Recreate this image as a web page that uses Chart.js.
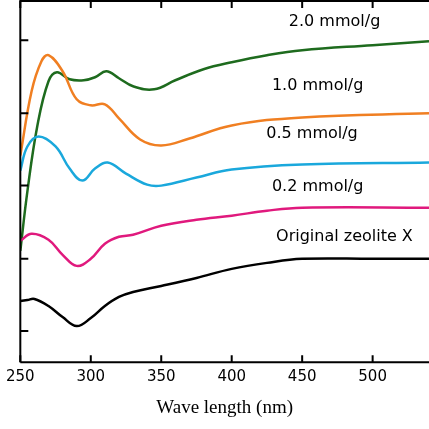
<!DOCTYPE html>
<html><head><meta charset="utf-8">
<script src="https://cdn.jsdelivr.net/npm/chart.js@4"></script>
<style>html,body{margin:0;padding:0;background:#fff}#c{width:429px;height:429px}</style>
</head><body><div id="c"><canvas id="cv"></canvas></div>
<script>
const xTicks=[250,300,350,400,450,500];
const yTickVals=[31,103,176,248,321];
const original=[[250,61],[255,62],[260,63],[270,56],[280,45],[290,36],[300,44],[310,56],[320,65],[330,70],[350,76],[375,84],[400,93],[425,99],[450,103],[500,103],[540,103]];
const s02=[[250,121],[258,128],[270,122],[280,107],[290,96],[300,103],[310,118],[320,125],[330,127],[350,136],[375,142],[400,146],[425,151],[450,154],[540,154]];
const s05=[[250,191],[255,215],[263,225],[275,215],[285,193],[294,181],[303,193],[312,199],[325,188],[340,177],[350,176],[375,184],[400,192],[450,197],[540,199]];
const s10=[[250,206],[258,270],[265,300],[270,306],[280,290],[290,262],[300,256],[310,257],[320,243],[335,222],[350,216],[370,223],[400,236],[450,244],[540,248]];
const s20=[[250,111],[255,170],[262,235],[270,280],[276,289],[285,282],[295,281],[303,284],[311,290],[320,283],[330,275],[345,272],[360,281],[380,292],[400,299],[425,306],[450,311],[500,316],[540,320]];
const labels=[["2.0 mmol/g",473,339],["1.0 mmol/g",461,275],["0.5 mmol/g",457,228],["0.2 mmol/g",461,175],["Original zeolite X",480,125]];
const mk=(d,c)=>({data:d.map(p=>({x:p[0],y:p[1]})),borderColor:c,borderWidth:2.5,pointRadius:0,tension:0.4,fill:false});
const deco={id:'deco',afterDraw(ch){const c=ch.ctx,a=ch.chartArea,X=ch.scales.x,Y=ch.scales.y;c.save();c.strokeStyle='#000';c.lineWidth=2;
c.beginPath();c.moveTo(a.left,a.bottom);c.lineTo(a.left,a.top);c.lineTo(a.right,a.top);c.moveTo(a.left,a.bottom);c.lineTo(a.right,a.bottom);c.stroke();
c.beginPath();xTicks.forEach(v=>{const px=X.getPixelForValue(v);c.moveTo(px,a.bottom);c.lineTo(px,a.bottom-7);c.moveTo(px,a.top);c.lineTo(px,a.top+7);});
yTickVals.forEach(v=>{const py=Y.getPixelForValue(v);c.moveTo(a.left,py);c.lineTo(a.left+8,py);});c.stroke();
c.fillStyle='#000';c.font='16px "DejaVu Sans", sans-serif';c.textAlign='center';c.textBaseline='middle';
labels.forEach(l=>c.fillText(l[0],X.getPixelForValue(l[1]),Y.getPixelForValue(l[2])));c.restore();}};
new Chart(document.getElementById('cv'),{type:'line',data:{datasets:[mk(original,'#000000'),mk(s02,'#e0197d'),mk(s05,'#1aa8dc'),mk(s10,'#f07f22'),mk(s20,'#1e6b1e')]},
options:{responsive:true,maintainAspectRatio:false,animation:false,layout:{padding:{left:10,top:1,right:0,bottom:6}},
plugins:{legend:{display:false},tooltip:{enabled:false}},
scales:{x:{type:'linear',min:250,max:540,afterBuildTicks:s=>{s.ticks=xTicks.map(v=>({value:v}))},grid:{display:false,drawTicks:false},border:{display:false},
ticks:{padding:6,color:'#000',font:{size:15,family:'"DejaVu Sans", sans-serif'}},
title:{display:true,text:'Wave length (nm)',color:'#000',padding:{top:4},font:{size:19,family:'"Liberation Serif","Times New Roman",serif'}}},
y:{min:0,max:360,grid:{display:false,drawTicks:false},border:{display:false},ticks:{display:false}}}},plugins:[deco]});
</script></body></html>
